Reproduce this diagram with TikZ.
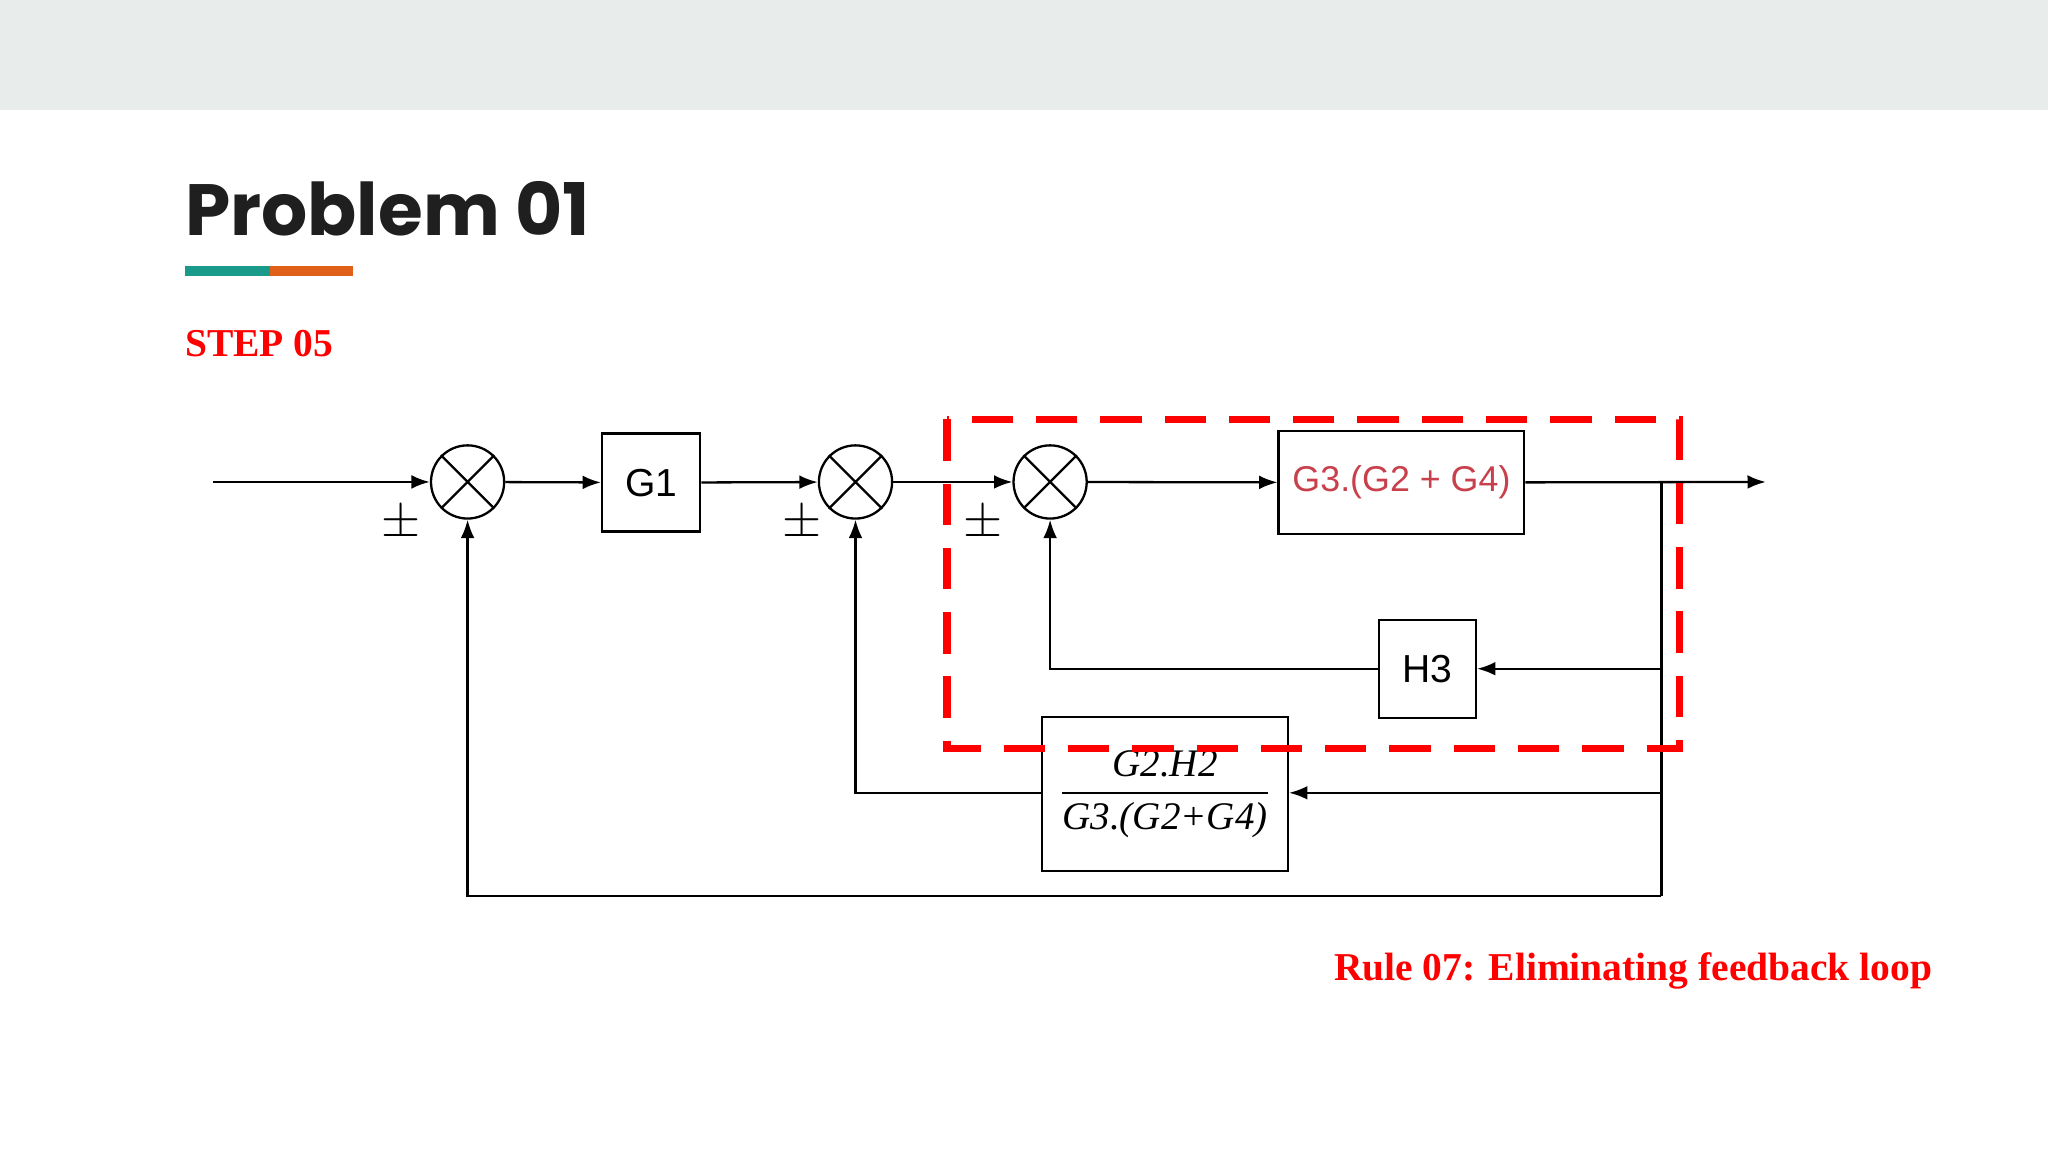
\documentclass[tikz,border=0pt]{standalone}
\usepackage{fontspec}
\setmainfont{Liberation Serif}
\setsansfont{Liberation Sans}
\newfontfamily\titlefont{Poppins}
\usetikzlibrary{arrows.meta,shapes.misc}
\definecolor{band}{HTML}{E8EDEC}
\definecolor{teal}{HTML}{1A9A8A}
\definecolor{orng}{HTML}{E0601A}
\definecolor{gred}{HTML}{C8404C}
\tikzset{x=0.01cm,y=-0.01cm,
 blk/.style={draw,line width=0.5pt,minimum width=0,inner sep=0},
 sumc/.style={draw,circle,line width=0.5pt,minimum size=0.56cm,inner sep=0},
 ln/.style={line width=0.5pt},
 ar/.style={line width=0.5pt,-{Latex[length=4pt,width=3pt]}},
 pm/.style={font=\fontsize{11}{11}\selectfont}}
\begin{document}
\begin{tikzpicture}
\useasboundingbox (0,0) rectangle (1568,882);
\fill[white] (0,0) rectangle (1568,882);
\fill[band] (0,0) rectangle (1568,84);
\node[anchor=base west,inner sep=0,font=\titlefont\bfseries\fontsize{15.8}{17}\selectfont,text=black!88] (title) at (141,180) {Problem 01};
\fill[teal] (142,204) rectangle (207,211);
\fill[orng] (207,204) rectangle (270,211);
\node[anchor=base west,inner sep=0,text=red,font=\bfseries\fontsize{8.6}{9}\selectfont] (step) at (141,273) {STEP 05};
\coordinate (in) at (163,369);
\node[sumc] (s1) at (358,369) {};
\node[sumc] (s2) at (655,369) {};
\node[sumc] (s3) at (804,369) {};
\foreach \s in {s1,s2,s3}{\draw[ln] (\s.north west)--(\s.south east) (\s.north east)--(\s.south west);}
\node[blk,minimum width=0.75cm,minimum height=0.75cm,font=\sffamily\fontsize{8.5}{9}\selectfont] (g1) at (498.5,369.5) {G1};
\node[blk,minimum width=1.88cm,minimum height=0.79cm,text=gred,font=\sffamily\fontsize{7.8}{9}\selectfont] (g3) at (1073,369.5) {G3.(G2 + G4)};
\node[blk,minimum width=0.74cm,minimum height=0.75cm,font=\sffamily\fontsize{8.5}{9}\selectfont] (h3) at (1093,512) {H3};
\node[blk,minimum width=1.88cm,minimum height=1.18cm,font=\fontsize{8.5}{9}\selectfont] (fr) at (892,608) {$\displaystyle\frac{\textit{G2.H2}}{\textit{G3.(G2+G4)}}$};
\coordinate (out) at (1352,369);
\coordinate (br) at (1272,369);
\coordinate (bh) at (1272,512);
\coordinate (bf) at (1272,607);
\coordinate (bb) at (1272,686);
\draw[ar] (in) -- (s1);
\draw[ar] (s1) -- (g1);
\draw[ar] (g1) -- (s2);
\draw[ar] (s2) -- (s3);
\draw[ar] (s3) -- (g3);
\draw[ar] (g3) -- (out);
\draw[ln] (br) -- (bb);
\draw[ar] (bh) -- (h3);
\draw[ar] (h3) -| (s3);
\draw[ar] (bf) -- (fr.east |- bf);
\draw[ar] (fr.west |- bf) -| (s2);
\draw[ar] (bb) -| (s1);
\node[pm] (p1) at (307,401) {$\pm$};
\node[pm] (p2) at (614,401) {$\pm$};
\node[pm] (p3) at (753,401) {$\pm$};
\draw[red,line width=1.6pt,dash pattern=on 9pt off 5pt] (725,321) rectangle (1286,573);
\node[anchor=base east,inner sep=0,text=red,font=\bfseries\fontsize{8.6}{9}\selectfont] (rule) at (1480,751) {Rule 07: Eliminating feedback loop};
\end{tikzpicture}
\end{document}
